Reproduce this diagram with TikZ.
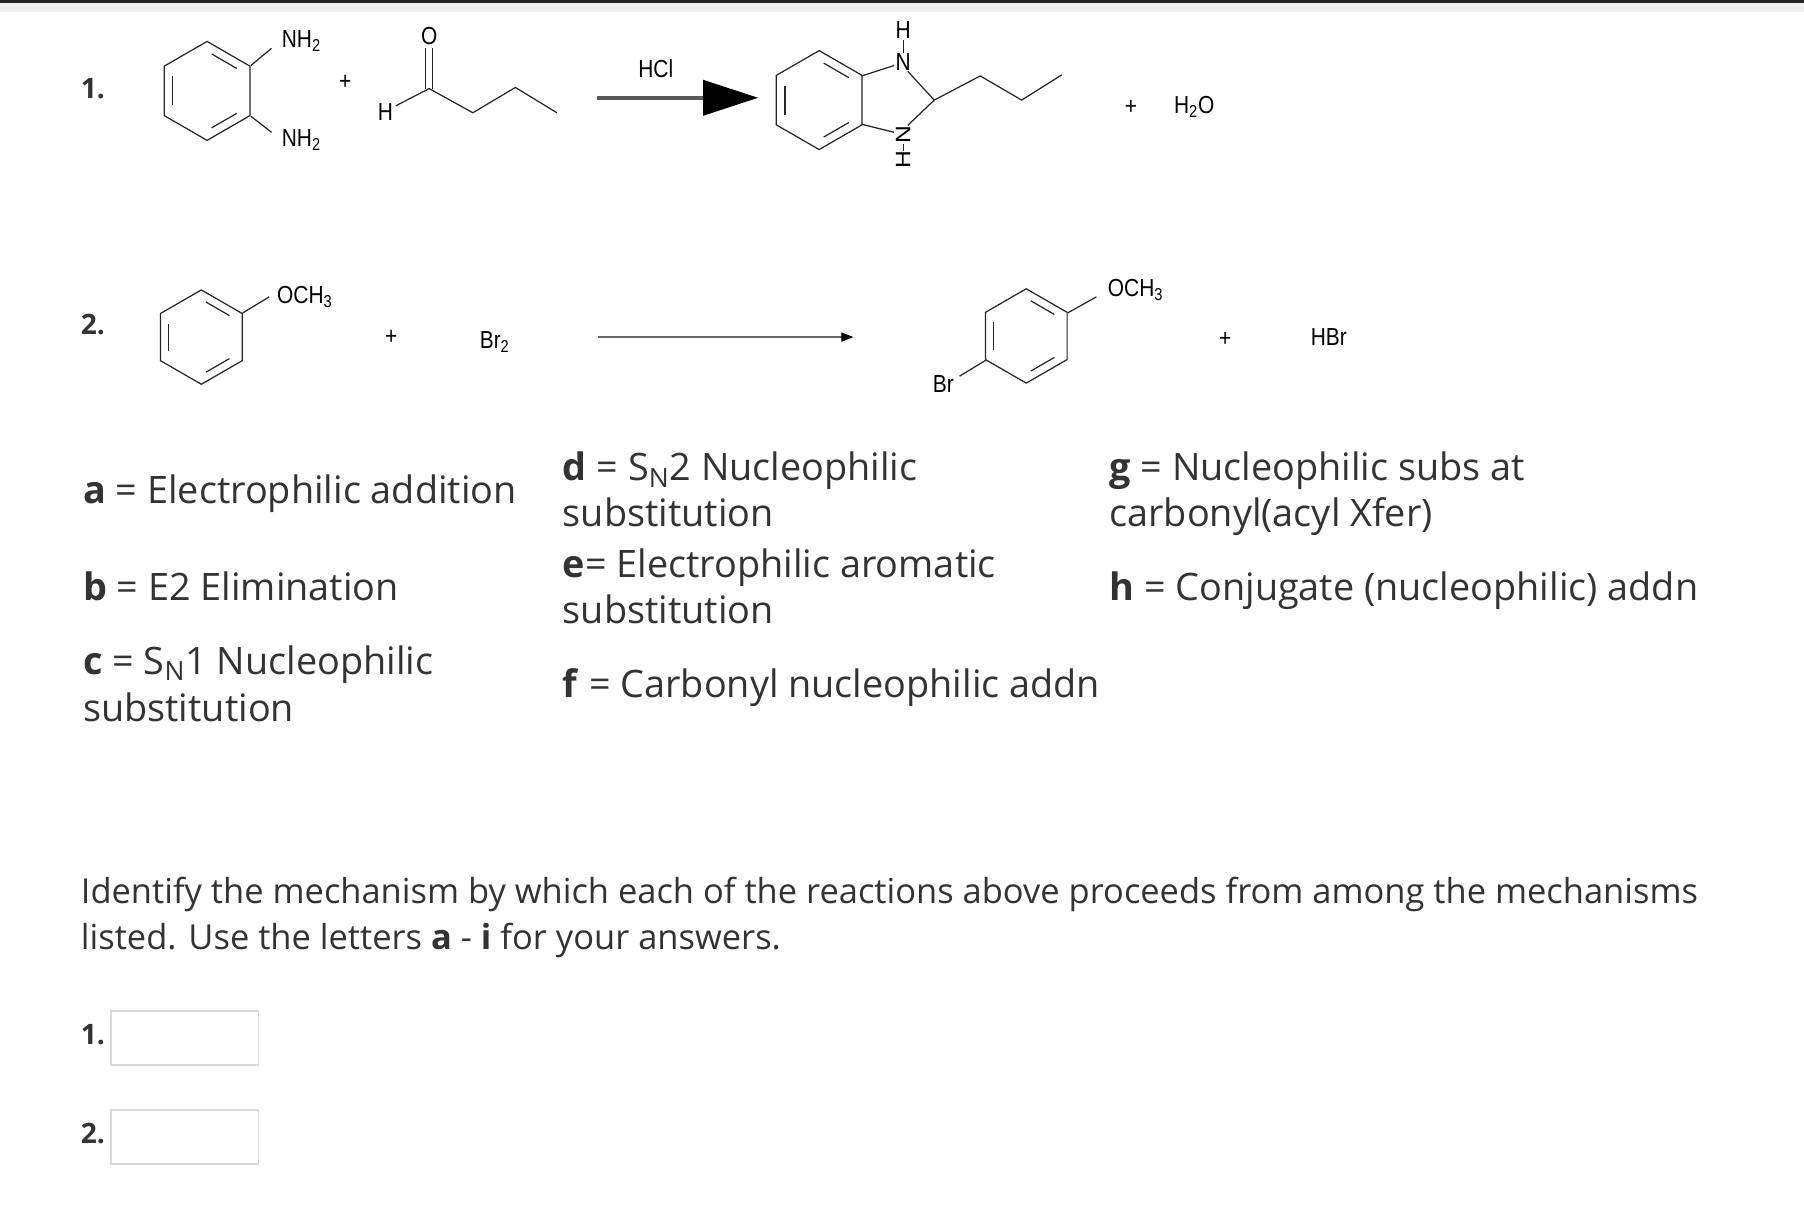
\documentclass[tikz,border=0pt]{standalone}
\usepackage{fontspec}
\setmainfont{Open Sans}
\newfontfamily\chemf{Liberation Sans}
\usetikzlibrary{arrows.meta,calc}
\definecolor{txt}{HTML}{333333}
\tikzset{
  body/.style={anchor=base west,inner sep=0,font=\fontsize{21.5}{24}\selectfont,text=txt},
  para/.style={anchor=base west,inner sep=0,font=\fontsize{19.6}{22}\selectfont,text=txt},
  num/.style={anchor=base west,inner sep=0,font=\fontsize{16}{18}\selectfont\bfseries,text=txt},
  chem/.style={inner sep=0,font=\chemf\fontsize{14}{15}\selectfont,xscale=0.85},
  bond/.style={line width=0.7pt,black!85},
  ansbox/.style={draw=black!15,line width=0.8pt},
}
\newcommand\myring[3]{%
 \begin{scope}[shift={(#1,#2)}]
  \draw[bond] (270:#3)--(330:#3)--(30:#3)--(90:#3)--(150:#3)--(210:#3)--cycle;
  \draw[bond,shorten <=3pt,shorten >=3pt] (270:0.8*#3)--(330:0.8*#3);
  \draw[bond,shorten <=3pt,shorten >=3pt] (30:0.8*#3)--(90:0.8*#3);
  \draw[bond,shorten <=3pt,shorten >=3pt] (150:0.8*#3)--(210:0.8*#3);
 \end{scope}}
\begin{document}
\begin{tikzpicture}[x=0.023cm,y=-0.023cm]
\useasboundingbox (0,0) rectangle (1568,1056.9);
\fill[black!85] (0,0) rectangle (1568,3);
\fill[black!6] (0,3) rectangle (1568,10);
% ---------- reaction 1
\node[num] (n1) at (70,86) {1.};
\myring{180}{79}{43}
\draw[bond] (218,57)--(236,42);
\draw[bond] (218,101)--(236,115);
\node[chem] (nh2a) at (262,36) {NH\textsubscript{2}};
\node[chem] (nh2b) at (262,122) {NH\textsubscript{2}};
\node[chem] (p1) at (300,72) {+};
\draw[bond] (370,77)--(370,42) (376,77)--(376,42);
\node[chem] (o1) at (373,31) {O};
\node[chem] (h1) at (335,97) {H};
\draw[bond] (344,92)--(373,77)--(411,98)--(448,76)--(484,98);
\node[chem] (hcl) at (570,60) {HCl};
\coordinate (a1s) at (519,85);
\coordinate (a1e) at (659,85);
\draw[line width=2pt,black!65,-{Triangle[length=1.1cm,width=0.7cm,color=black]}] (a1s)--(a1e);
\myring{712}{87}{43}
\node[chem] (nt) at (785,54) {N};
\node[chem] (ht) at (785,26) {H};
\draw[bond] (785,35)--(785,46);
\node[chem,rotate=90] (nb) at (785,117) {N};
\node[chem,rotate=90] (hb) at (785,139) {H};
\draw[bond] (785,125)--(785,131);
\draw[bond] (749,66)--(777,57);
\draw[bond] (749,108)--(777,115);
\draw[bond] (789,62)--(812,87)--(789,109);
\draw[bond] (812,87)--(852,66)--(888,87)--(923,65);
\node[chem] (p2) at (983,93) {+};
\node[chem] (h2o) at (1038,93) {H\textsubscript{2}O};
% ---------- reaction 2
\node[num] (n2) at (70,291) {2.};
\myring{175}{293}{41}
\draw[bond] (211,272)--(234,258);
\node[chem] (och3a) at (265,258) {OCH\textsubscript{3}};
\node[chem] (p3) at (340,293) {+};
\node[chem] (br2) at (430,297) {Br\textsubscript{2}};
\coordinate (a2s) at (520,293);
\coordinate (a2e) at (742,293);
\draw[line width=1.1pt,black!60,-{Triangle[length=7pt,width=5pt,color=black]}] (a2s)--(a2e);
\myring{892}{292}{41}
\draw[bond] (928,272)--(953,258);
\node[chem] (och3b) at (987,252) {OCH\textsubscript{3}};
\draw[bond] (857,313)--(834,327);
\node[chem] (brp) at (820,334) {Br};
\node[chem] (p4) at (1065,295) {+};
\node[chem] (hbr) at (1155,293) {HBr};
% ---------- mechanisms
\node[body] (ta) at (72,438) {\textbf{a} = Electrophilic addition};
\node[body] (tb) at (72,522) {\textbf{b} = E2 Elimination};
\node[body] (tc1) at (72,586) {\textbf{c} = S\textsubscript{N}1 Nucleophilic};
\node[body] (tc2) at (72,627) {substitution};
\node[body] (td1) at (489,418) {\textbf{d} = S\textsubscript{N}2 Nucleophilic};
\node[body] (td2) at (489,458) {substitution};
\node[body] (te1) at (489,502) {\textbf{e}= Electrophilic aromatic};
\node[body] (te2) at (489,542) {substitution};
\node[body] (tf) at (489,606) {\textbf{f} = Carbonyl nucleophilic addn};
\node[body] (tg1) at (964,418) {\textbf{g} = Nucleophilic subs at};
\node[body] (tg2) at (964,458) {carbonyl(acyl Xfer)};
\node[body] (th) at (964,522) {\textbf{h} = Conjugate (nucleophilic) addn};
% ---------- question
\node[para] (q1) at (70,785) {Identify the mechanism by which each of the reactions above proceeds from among the mechanisms};
\node[para] (q2) at (70,825) {listed. Use the letters \textbf{a} - \textbf{i} for your answers.};
\node[num] (l1) at (70,908) {1.};
\node[ansbox,minimum width=128*0.023cm,minimum height=47*0.023cm,anchor=north west] (b1) at (96,878) {};
\node[num] (l2) at (70,994) {2.};
\node[ansbox,minimum width=128*0.023cm,minimum height=47*0.023cm,anchor=north west] (b2) at (96,964) {};
\end{tikzpicture}
\end{document}
